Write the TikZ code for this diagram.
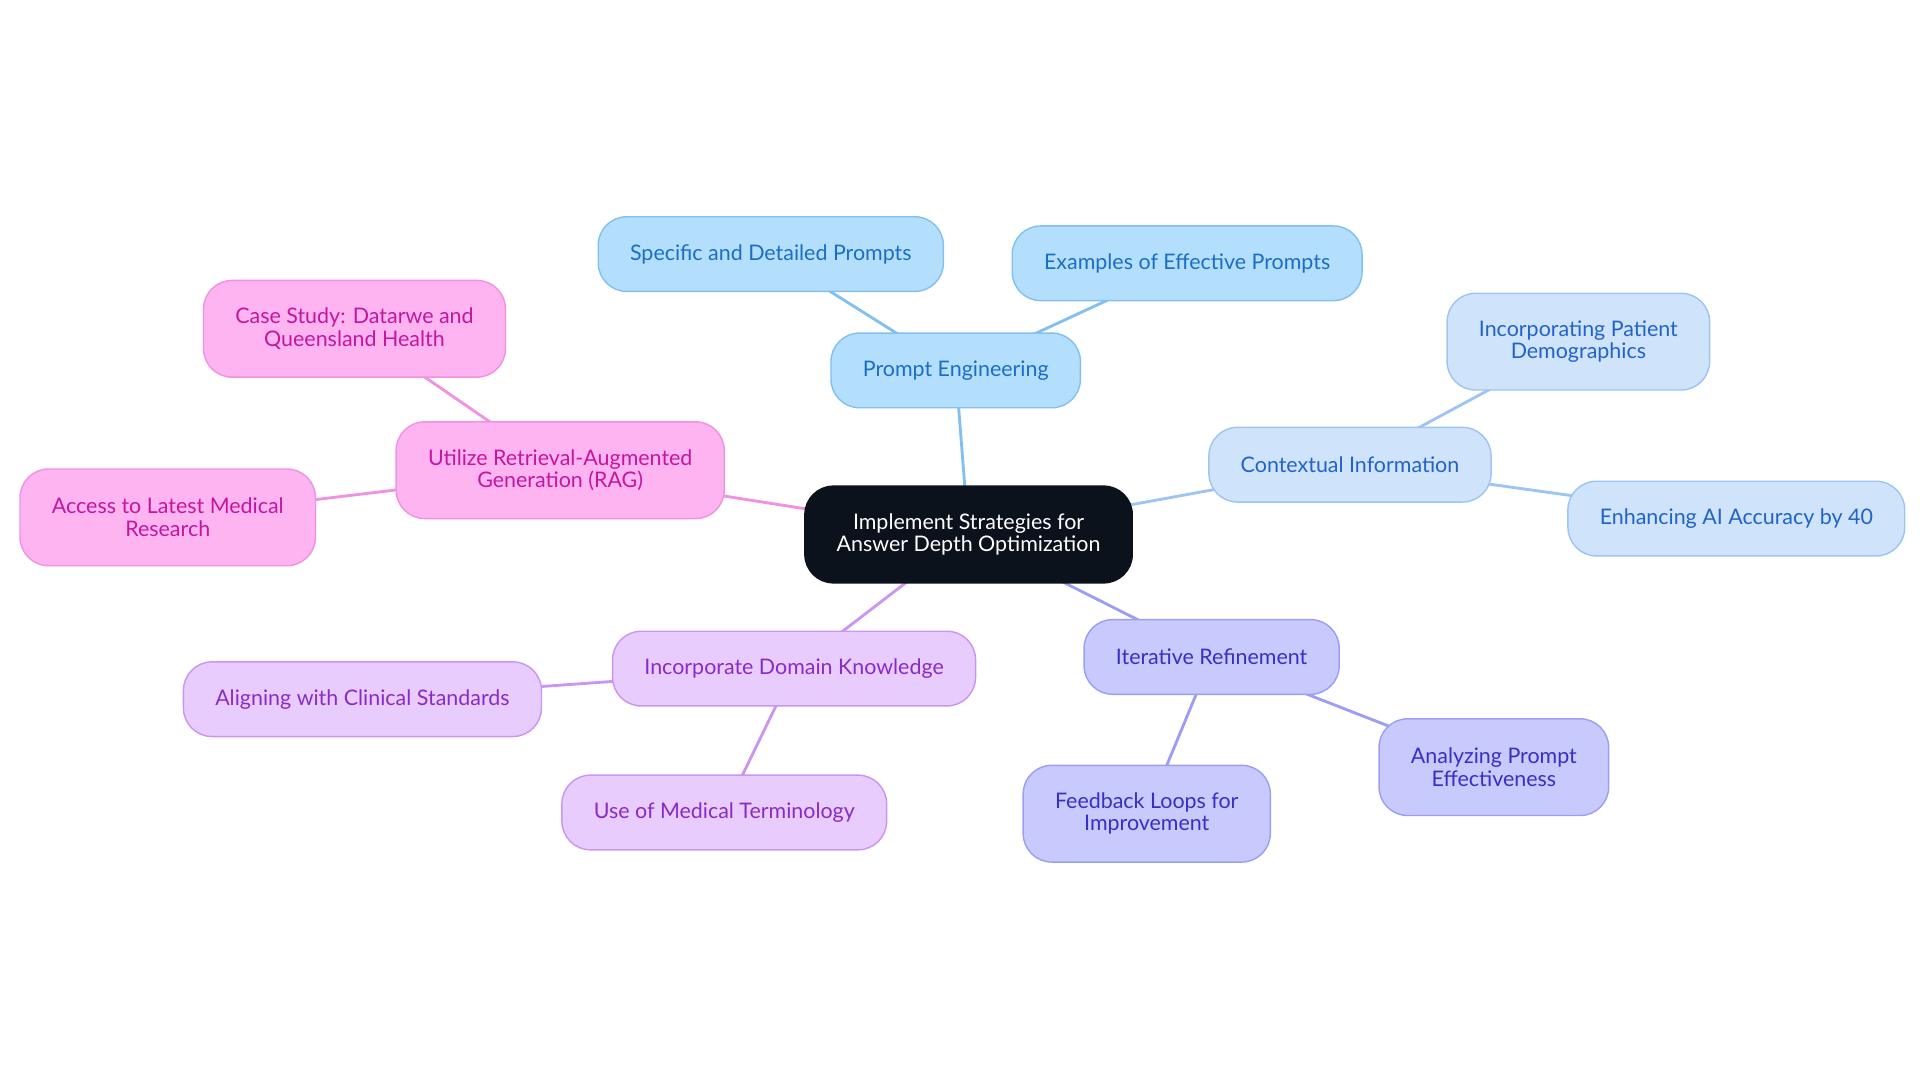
\documentclass[tikz,border=0pt]{standalone}
\usepackage{fontspec}
\setmainfont{Lato}
\usetikzlibrary{backgrounds}

\definecolor{peFill}{HTML}{B4DFFC}
\definecolor{peEdge}{HTML}{82C0F2}
\definecolor{peText}{HTML}{1A6FC4}
\definecolor{ctxFill}{HTML}{CFE3FB}
\definecolor{ctxEdge}{HTML}{9DC4F3}
\definecolor{ctxText}{HTML}{2163C9}
\definecolor{itrFill}{HTML}{C8C9FD}
\definecolor{itrEdge}{HTML}{9B9EF4}
\definecolor{itrText}{HTML}{3730C5}
\definecolor{domFill}{HTML}{E8CCFD}
\definecolor{domEdge}{HTML}{CB95F2}
\definecolor{domText}{HTML}{8A2BC7}
\definecolor{ragFill}{HTML}{FDB4F1}
\definecolor{ragEdge}{HTML}{F091E2}
\definecolor{ragText}{HTML}{C5169E}
\definecolor{rootFill}{HTML}{0C121C}

\begin{document}
\begin{tikzpicture}[
    x = 1pt, y = -1pt, % pixel-like grid, y pointing down
    box/.style = {rounded corners = 14pt, line width = 0.7pt,
        inner xsep = 15.6pt, inner ysep = 3pt, minimum height = 36.6pt,
        align = center, font = \fontsize{10.5}{11}\selectfont},
    tall/.style = {minimum height = 47.4pt},
    pe box/.style = {box, fill = peFill, draw = peEdge, text = peText},
    ctx box/.style = {box, fill = ctxFill, draw = ctxEdge, text = ctxText},
    itr box/.style = {box, fill = itrFill, draw = itrEdge, text = itrText},
    dom box/.style = {box, fill = domFill, draw = domEdge, text = domText},
    rag box/.style = {box, fill = ragFill, draw = ragEdge, text = ragText},
    link/.style = {line width = 1.4pt}
    ]
    \useasboundingbox (0,0) rectangle (940.8,531);

    % centre
    \node[box, tall, fill = rootFill, draw = rootFill, text = white] (root) at (474.6,261.9)
        {Implement Strategies for\\Answer Depth Optimization};

    % prompt engineering
    \node[pe box] (pe) at (468.3,181.5) {Prompt Engineering};
    \node[pe box] (spec) at (377.7,124.5) {Specific and Detailed Prompts};
    \node[pe box] (examples) at (581.7,129) {Examples of Effective Prompts};

    % context
    \node[ctx box] (ctx) at (661.5,227.7) {Contextual Information};
    \node[ctx box, tall] (demo) at (773.4,167.4) {Incorporating Patient\\Demographics};
    \node[ctx box] (acc) at (850.8,254.1) {Enhancing AI Accuracy by 40};

    % refinement
    \node[itr box] (iter) at (593.7,321.9) {Iterative Refinement};
    \node[itr box, tall] (feedback) at (561.9,398.7) {Feedback Loops for\\Improvement};
    \node[itr box, tall] (analyze) at (732,375.9) {Analyzing Prompt\\Effectiveness};

    % domain knowledge
    \node[dom box] (domain) at (389.1,327.6) {Incorporate Domain Knowledge};
    \node[dom box] (clinical) at (177.6,342.6) {Aligning with Clinical Standards};
    \node[dom box] (term) at (354.9,398.1) {Use of Medical Terminology};

    % RAG
    \node[rag box, tall] (rag) at (274.5,230.4) {Utilize Retrieval-Augmented\\Generation (RAG)};
    \node[rag box, tall] (casestudy) at (173.7,161.1) {Case Study: Datarwe and\\Queensland Health};
    \node[rag box, tall] (access) at (82.2,253.5) {Access to Latest Medical\\Research};

    \begin{scope}[on background layer]
     \path[link, draw = peEdge] (root.center) edge (pe.center);
     \path[link, draw = peEdge] (pe.center) edge (spec.center);
     \path[link, draw = peEdge] (pe.center) edge (examples.center);
     \path[link, draw = ctxEdge] (root.center) edge (ctx.center);
     \path[link, draw = ctxEdge] (ctx.center) edge (demo.center);
     \path[link, draw = ctxEdge] (ctx.center) edge (acc.center);
     \path[link, draw = itrEdge] (root.center) edge (iter.center);
     \path[link, draw = itrEdge] (iter.center) edge (feedback.center);
     \path[link, draw = itrEdge] (iter.center) edge (analyze.center);
     \path[link, draw = domEdge] (root.center) edge (domain.center);
     \path[link, draw = domEdge] (domain.center) edge (clinical.center);
     \path[link, draw = domEdge] (domain.center) edge (term.center);
     \path[link, draw = ragEdge] (root.center) edge (rag.center);
     \path[link, draw = ragEdge] (rag.center) edge (casestudy.center);
     \path[link, draw = ragEdge] (rag.center) edge (access.center);
    \end{scope}
\end{tikzpicture}
\end{document}
